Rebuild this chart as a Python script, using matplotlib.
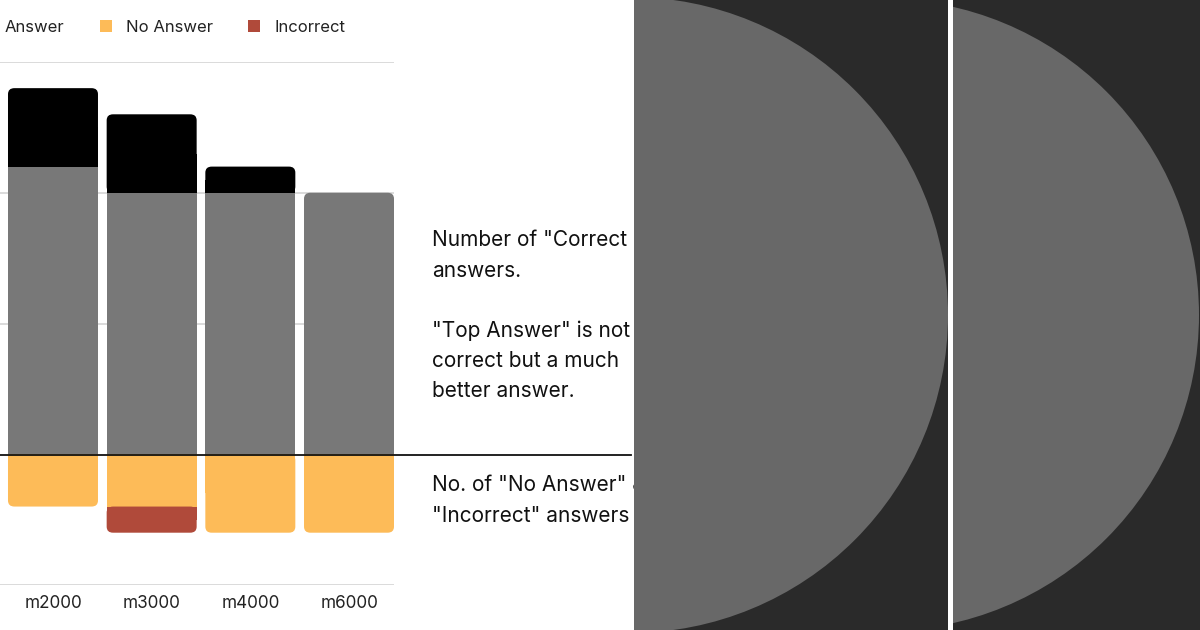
import matplotlib
matplotlib.use("Agg")
import matplotlib.pyplot as plt
from matplotlib.patches import FancyBboxPatch, Rectangle, Circle

plt.rcParams['font.family'] = ['Inter', 'DejaVu Sans']

cats = ['m2000', 'm3000', 'm4000', 'm6000']
correct = [11, 10, 10, 10]
top_answer = [3, 3, 1, 0]
no_answer = [2, 2, 3, 3]
incorrect = [0, 1, 0, 0]

GRAY = '#787878'
BLACK = '#000000'
YELLOW = '#fdbb58'
RED = '#b04a3a'

W, H = 1200, 630
fig = plt.figure(figsize=(12, 6.3), dpi=100)
fig.patch.set_facecolor('white')

# bar chart axes, placed in pixels: x 0..394, y 62..585
ax = fig.add_axes([0, (H - 585) / H, 394 / W, 523 / H])
ax.set_xlim(-0.537, 3.456)
ax.set_ylim(-5, 15)
ax.axis('off')
for g in [-5, 5, 10, 15]:
    ax.axhline(g, color='#d4d4d4', lw=1.2, zorder=0)

bw = 0.912
rx = 0.065
aspect = (6 / 26.1) / rx


def seg(x, y0, y1, color, rounded):
    # rounded=True rounds the outer end (away from zero)
    lo, hi = min(y0, y1), max(y0, y1)
    if rounded:
        ax.add_patch(FancyBboxPatch((x - bw / 2, lo), bw, hi - lo,
                                    boxstyle=f"round,pad=0,rounding_size={rx}",
                                    mutation_aspect=aspect, fc=color, ec='none', zorder=2))
        # square off the inner half
        ax.add_patch(Rectangle((x - bw / 2, y0 if y0 < y1 else (y0 + y1) / 2), bw, abs(y1 - y0) / 2,
                               fc=color, ec='none', zorder=2))
    else:
        ax.add_patch(Rectangle((x - bw / 2, lo), bw, hi - lo, fc=color, ec='none', zorder=2))


for i in range(len(cats)):
    c, t, n, r = correct[i], top_answer[i], no_answer[i], incorrect[i]
    seg(i, 0, c, GRAY, t == 0)
    if t:
        seg(i, c, c + t, BLACK, True)
    seg(i, 0, -n, YELLOW, r == 0)
    if r:
        seg(i, -n, -n - r, RED, True)

# overlay in pixel coords
ov = fig.add_axes([0, 0, 1, 1], zorder=5)
ov.set_xlim(0, W)
ov.set_ylim(H, 0)
ov.axis('off')
ov.patch.set_alpha(0)

ov.plot([0, 631], [455, 455], color='#111111', lw=1.3)

# legend
ov.text(5, 27, 'Answer', fontsize=12, va='center', color='#222222')
ov.add_patch(Rectangle((100, 20), 12, 12, fc=YELLOW, ec='none'))
ov.text(126, 27, 'No Answer', fontsize=12, va='center', color='#222222')
ov.add_patch(Rectangle((248, 20), 12, 12, fc=RED, ec='none'))
ov.text(274, 27, 'Incorrect', fontsize=12, va='center', color='#222222')

# category labels
for i, cat in enumerate(cats):
    px = 53 + i * 98.7
    ov.text(px, 603, cat, fontsize=12.3, ha='center', va='center', color='#222222')

# notes
notes = [(240, 'Number of "Correct'), (271, 'answers.'),
         (331, '"Top Answer" is not'), (361, 'correct but a much'),
         (391, 'better answer.'),
         (485, 'No. of "No Answer" &'), (516, '"Incorrect" answers')]
for y, s in notes:
    ov.text(432, y, s, fontsize=15, va='center', color='#111111')

# dark panel with half circles
ov.add_patch(Rectangle((634, 0), W - 634, H, fc='#2a2a2a', ec='none', zorder=3))
clip1 = Rectangle((634, 0), 314, H, transform=ov.transData)
c1 = Circle((630, 315), 318, fc='#686868', ec='none', zorder=4)
ov.add_patch(c1)
c1.set_clip_path(clip1)
ov.add_patch(Rectangle((948, 0), 5, H, fc='white', ec='none', zorder=4))
clip2 = Rectangle((953, 0), W - 953, H, transform=ov.transData)
c2 = Circle((883, 315), 316, fc='#686868', ec='none', zorder=4)
ov.add_patch(c2)
c2.set_clip_path(clip2)

fig.savefig('out.png', dpi=100)
